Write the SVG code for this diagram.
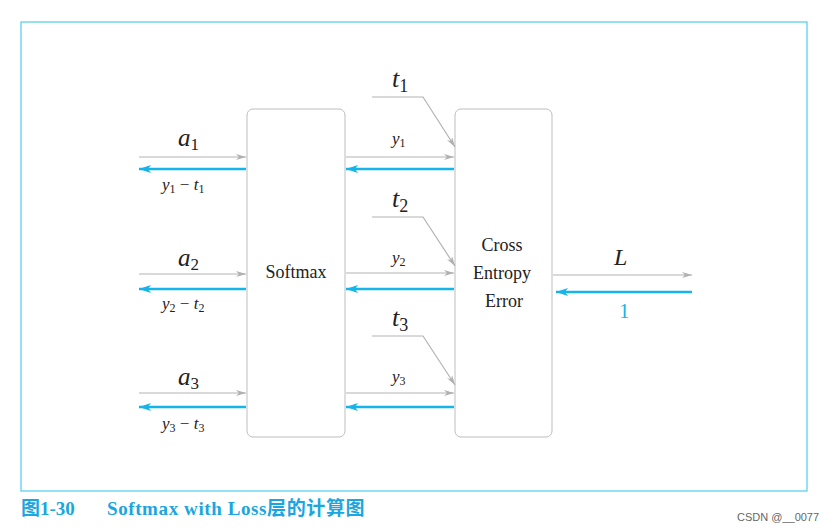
<svg xmlns="http://www.w3.org/2000/svg" width="836" height="531" viewBox="0 0 836 531">
<defs>
<marker id="g" markerWidth="10" markerHeight="6" refX="10" refY="3" orient="auto" markerUnits="userSpaceOnUse"><path d="M0,0 L10,3 L0,6 L3,3 Z" fill="#b0b0b0"/></marker>
<marker id="b" markerWidth="12" markerHeight="8" refX="12" refY="4" orient="auto" markerUnits="userSpaceOnUse"><path d="M0,0 L12,4 L0,8 L3,4 Z" fill="#15b4ea"/></marker>
<style>
.box{fill:#fff;stroke:#bdbdbd;stroke-width:1}
.gl{stroke:#b3b3b3;stroke-width:1.2;fill:none;marker-end:url(#g)}
.bl{stroke:#15b4ea;stroke-width:2.6;fill:none;marker-end:url(#b)}
.m{font-family:"Liberation Serif",serif;font-style:italic;fill:#222}
.t{font-family:"Liberation Serif",serif;font-size:18px;fill:#222;text-anchor:middle}
.sub{font-style:normal}
</style>
</defs>
<rect width="836" height="531" fill="#fff"/>
<rect x="21" y="22" width="786" height="469" fill="none" stroke="#5ecff2" stroke-width="1.3"/>
<g id="softmax"><rect class="box" x="247" y="109" width="98" height="328" rx="6"/><text class="t" x="296" y="278">Softmax</text></g>
<g id="cee"><rect class="box" x="455" y="109" width="97" height="328" rx="6"/><text class="t" x="502" y="251">Cross</text><text class="t" x="502" y="279">Entropy</text><text class="t" x="504" y="307">Error</text></g>
<g id="connectors">
<line class="gl" x1="139" y1="157" x2="246" y2="157"/><line class="bl" x1="246" y1="169" x2="139" y2="169"/>
<line class="gl" x1="139" y1="274" x2="246" y2="274"/><line class="bl" x1="246" y1="289" x2="139" y2="289"/>
<line class="gl" x1="139" y1="393" x2="246" y2="393"/><line class="bl" x1="246" y1="407" x2="139" y2="407"/>
<line class="gl" x1="346" y1="157" x2="454" y2="157"/><line class="bl" x1="454" y1="169" x2="346" y2="169"/>
<line class="gl" x1="346" y1="273" x2="454" y2="273"/><line class="bl" x1="454" y1="289" x2="346" y2="289"/>
<line class="gl" x1="346" y1="393" x2="454" y2="393"/><line class="bl" x1="454" y1="407" x2="346" y2="407"/>
<polyline class="gl" points="372,97 423,97 455,147"/>
<polyline class="gl" points="372,217 423,217 455,266"/>
<polyline class="gl" points="372,336 423,336 455,385"/>
<line class="gl" x1="553" y1="275" x2="692" y2="275"/><line class="bl" x1="692" y1="292" x2="556" y2="292"/>
</g>
<g id="labels">
<text class="m" x="178" y="146" font-size="25">a<tspan class="sub" font-size="17" dy="4">1</tspan></text>
<text class="m" x="178" y="266" font-size="25">a<tspan class="sub" font-size="17" dy="4">2</tspan></text>
<text class="m" x="178" y="385" font-size="25">a<tspan class="sub" font-size="17" dy="4">3</tspan></text>
<text class="m" x="162" y="190" font-size="17">y<tspan class="sub" font-size="12" dy="3">1</tspan><tspan class="sub" dy="-3"> − </tspan>t<tspan class="sub" font-size="12" dy="3">1</tspan></text>
<text class="m" x="162" y="309" font-size="17">y<tspan class="sub" font-size="12" dy="3">2</tspan><tspan class="sub" dy="-3"> − </tspan>t<tspan class="sub" font-size="12" dy="3">2</tspan></text>
<text class="m" x="162" y="429" font-size="17">y<tspan class="sub" font-size="12" dy="3">3</tspan><tspan class="sub" dy="-3"> − </tspan>t<tspan class="sub" font-size="12" dy="3">3</tspan></text>
<text class="m" x="392" y="144" font-size="17">y<tspan class="sub" font-size="12" dy="3">1</tspan></text>
<text class="m" x="392" y="263" font-size="17">y<tspan class="sub" font-size="12" dy="3">2</tspan></text>
<text class="m" x="392" y="382" font-size="17">y<tspan class="sub" font-size="12" dy="3">3</tspan></text>
<text class="m" x="392" y="87" font-size="26">t<tspan class="sub" font-size="18" dy="5">1</tspan></text>
<text class="m" x="392" y="207" font-size="26">t<tspan class="sub" font-size="18" dy="5">2</tspan></text>
<text class="m" x="392" y="326" font-size="26">t<tspan class="sub" font-size="18" dy="5">3</tspan></text>
<text class="m" x="614" y="265" font-size="24">L</text>
<text x="619" y="318" font-family="Liberation Serif,serif" font-size="21" fill="#15b4ea">1</text>
</g>
<g font-family="'Liberation Serif','Noto Sans CJK SC',serif" font-size="19" font-weight="bold" fill="#1ba6e0">
<text x="21" y="515">图1-30</text>
<text x="107" y="515" letter-spacing="0.6">Softmax with Loss层的计算图</text>
</g>
<text x="737" y="521" font-family="'Liberation Sans',sans-serif" font-size="11" fill="#666">CSDN @__0077</text>
</svg>
